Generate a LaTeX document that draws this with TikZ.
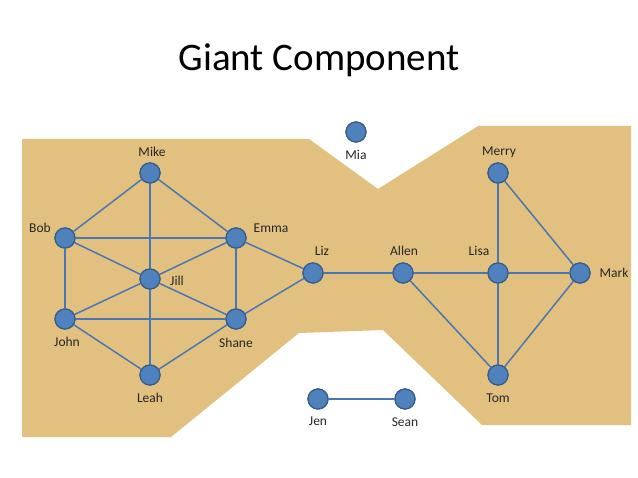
\documentclass[tikz,border=0pt]{standalone}
\usepackage{fontspec}
\setmainfont{Carlito}
\begin{document}
\begin{tikzpicture}[x=1bp,y=-1bp,
  v/.style={circle,draw=nodeb,fill=nodef,line width=1.2pt,minimum size=20bp,inner sep=0pt},
  lab/.style={font=\fontsize{13.5bp}{15bp}\selectfont,text=black!85},
  e/.style={draw=edgec,line width=1.5pt}]
\definecolor{nodef}{RGB}{79,129,189}
\definecolor{nodeb}{RGB}{56,93,138}
\definecolor{edgec}{RGB}{74,118,178}
\definecolor{papyrus}{RGB}{226,193,128}
\useasboundingbox (0,0) rectangle (638,478);
\fill[white] (0,0) rectangle (638,478);
\fill[papyrus] (22,139) -- (309,139) -- (378,189) -- (478,126) -- (631,126) -- (631,425) -- (482,425) -- (383,330) -- (299,333) -- (171,437) -- (22,437) -- cycle;
\node[font=\fontsize{39bp}{45bp}\selectfont] (title) at (319,60) {Giant Component};
\node[v] (mike) at (150,173) {};
\node[v] (bob) at (65,238) {};
\node[v] (emma) at (236,238) {};
\node[v] (jill) at (150,279) {};
\node[v] (john) at (65,319) {};
\node[v] (shane) at (236,319) {};
\node[v] (leah) at (150,375) {};
\node[v] (liz) at (313,273) {};
\node[v] (allen) at (403,273) {};
\node[v] (lisa) at (498,273) {};
\node[v] (mark) at (580,273) {};
\node[v] (merry) at (498,173) {};
\node[v] (tom) at (498,375) {};
\node[v] (mia) at (356,132) {};
\node[v] (jen) at (318,399) {};
\node[v] (sean) at (405,399) {};
\foreach \a/\b in {mike/bob,mike/emma,mike/jill,jill/leah,bob/emma,bob/jill,bob/john,emma/jill,emma/shane,emma/liz,jill/john,jill/shane,john/shane,john/leah,shane/leah,shane/liz,liz/allen,allen/lisa,lisa/mark,merry/lisa,merry/mark,lisa/tom,allen/tom,mark/tom,jen/sean}
  \draw[e] (\a) -- (\b);
\foreach \n in {mike,bob,emma,jill,john,shane,leah,liz,allen,lisa,mark,merry,tom,mia,jen,sean}
  \node[v] at (\n) {};
\node[lab] (lmike) at (152,152) {Mike};
\node[lab] (lbob) at (40,228) {Bob};
\node[lab] (lemma) at (271,228) {Emma};
\node[lab] (ljill) at (177,281) {Jill};
\node[lab] (ljohn) at (67,342) {John};
\node[lab] (lshane) at (236,343) {Shane};
\node[lab] (lleah) at (150,398) {Leah};
\node[lab] (lliz) at (322,251) {Liz};
\node[lab] (lallen) at (404,251) {Allen};
\node[lab] (llisa) at (479,251) {Lisa};
\node[lab] (lmark) at (614,273) {Mark};
\node[lab] (lmerry) at (499,152) {Merry};
\node[lab] (ltom) at (498,398) {Tom};
\node[lab] (lmia) at (356,155) {Mia};
\node[lab] (ljen) at (318,421) {Jen};
\node[lab] (lsean) at (405,422) {Sean};
\end{tikzpicture}
\end{document}
